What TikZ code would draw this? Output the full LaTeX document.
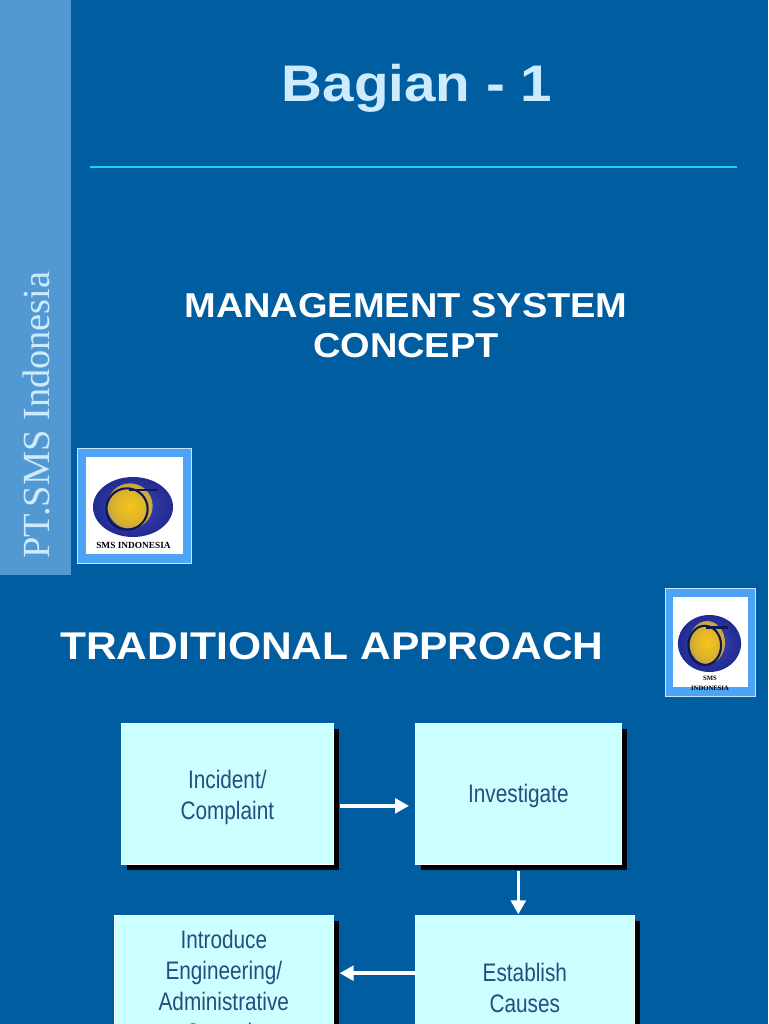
\documentclass[tikz,border=0pt]{standalone}
\usepackage{fontspec}
\setmainfont{Liberation Sans}
\newfontfamily\boxfont[FakeStretch=0.82]{Liberation Sans}
\newfontfamily\headfont[FakeStretch=1.1]{Liberation Sans}
\newfontfamily\serifont{Liberation Serif}
\usetikzlibrary{arrows.meta}
\definecolor{slidebg}{HTML}{005DA0}
\definecolor{stripcol}{HTML}{5298D2}
\definecolor{titlecol}{HTML}{CCEBFF}
\definecolor{boxcol}{HTML}{CCFFFF}
\definecolor{boxtext}{HTML}{2A4A80}
\definecolor{framecol}{HTML}{4DA3F5}
\definecolor{rulecol}{HTML}{19D3E6}
\definecolor{logoblue}{HTML}{2A35B5}
\definecolor{logonavy}{HTML}{101850}
\definecolor{suncore}{HTML}{F5C518}
\definecolor{sunmid}{HTML}{D8B030}
\definecolor{sunedge}{HTML}{8F8A78}
\definecolor{sunrim}{HTML}{4A55B0}
\pgfdeclareradialshading{sunball}{\pgfpoint{0bp}{0bp}}{color(0bp)=(suncore); color(20bp)=(sunmid); color(36bp)=(sunedge); color(50bp)=(sunrim)}
\tikzset{
  x=0.75pt, y=-0.75pt,
  flowbox/.style={draw=white, line width=0.5pt, fill=boxcol, text=boxtext, anchor=north west, align=center, inner sep=0pt,
    font=\boxfont\fontsize{19}{23.25}\selectfont},
  flowshadow/.style={fill=black},
  flowarrow/.style={draw=white, line width=2.7pt, -{Triangle[length=10.5pt,width=11pt]}, shorten <=4.5pt, shorten >=4.5pt},
  heading/.style={text=white, align=center, font=\headfont\bfseries\fontsize{25.9}{30}\selectfont},
  logotext/.style={text=black, inner sep=0pt},
}
\newcommand{\smslogo}[4]{%
  \begin{scope}[shift={(#1,#2)}, xscale=#3, yscale=#4]
    \shade[inner color=logoblue!90!white, outer color=logoblue!80!black] (0,0) ellipse [x radius=30pt, y radius=22.5pt];
    \shade[shading=sunball] (-3,-1) ellipse [x radius=17pt, y radius=17pt];
    \draw[logonavy, line width=1.6pt] (-6,2) ellipse [x radius=15.5pt, y radius=15.5pt];
    \draw[logonavy, line width=2pt] (-4,-17) -- (24,-17);
  \end{scope}}
\begin{document}
\begin{tikzpicture}
\useasboundingbox (0,0) rectangle (768,1024);
\fill[slidebg] (0,0) rectangle (768,1024);
\fill[stripcol] (0,0) rectangle (71,575);
% title
\node[text=titlecol, font=\headfont\bfseries\fontsize{38.6}{44}\selectfont] (title) at (417,88) {Bagian - 1};
\draw[rulecol, line width=1.2pt] (90,167) -- (737,167);
\node[heading] (concept) at (406,326) {MANAGEMENT SYSTEM\\CONCEPT};
\node[text=titlecol, rotate=90, font=\serifont\fontsize{28.8}{30}\selectfont] (company) at (36,415) {PT.SMS Indonesia};
% first logo
\draw[fill=framecol, draw=white!70!framecol] (77,448) rectangle (191,563);
\fill[white] (86,457) rectangle (183,554);
\smslogo{133}{507}{1}{1}
\node[logotext, font=\serifont\bfseries\fontsize{7}{8}\selectfont] (logoa) at (133.5,545) {SMS INDONESIA};
% second logo
\draw[fill=framecol, draw=white!70!framecol] (665,588) rectangle (755,696);
\fill[white] (673,597) rectangle (748,687);
\smslogo{709.5}{643.5}{0.79}{0.95}
\node[logotext, font=\serifont\bfseries\fontsize{5}{7.5}\selectfont, align=center] (logob) at (710,683) {SMS\\INDONESIA};
% flow
\node[heading, font=\headfont\bfseries\fontsize{29}{34}\selectfont] (approach) at (332,646) {TRADITIONAL APPROACH};
\fill[flowshadow] (127,729) rectangle (339,870);
\fill[flowshadow] (421,729) rectangle (627,870);
\fill[flowshadow] (120,921) rectangle (339,1062);
\fill[flowshadow] (421,921) rectangle (640,1062);
\node[flowbox, minimum width=159pt, minimum height=105.75pt] (incident) at (121,723) {\rule{0pt}{18.5pt}Incident/\\Complaint};
\node[flowbox, minimum width=154.5pt, minimum height=105.75pt] (investigate) at (415,723) {\rule{0pt}{16.5pt}Investigate};
\node[flowbox, minimum width=164.25pt, minimum height=105.75pt] (controls) at (114,915) {Introduce\\Engineering/\\Administrative\\Controls};
\node[flowbox, minimum width=164.25pt, minimum height=105.75pt] (causes) at (415,915) {\rule{0pt}{17.5pt}Establish\\Causes};
\draw[flowarrow] ([yshift=-9pt]incident.east) -- ([yshift=-9pt]investigate.west);
\draw[flowarrow, shorten >=0.5pt] (investigate.south) -- (investigate.south |- causes.north);
\draw[flowarrow, shorten <=0pt] ([yshift=9.5pt]causes.west) -- ([yshift=9.5pt]controls.east);
\end{tikzpicture}
\end{document}
